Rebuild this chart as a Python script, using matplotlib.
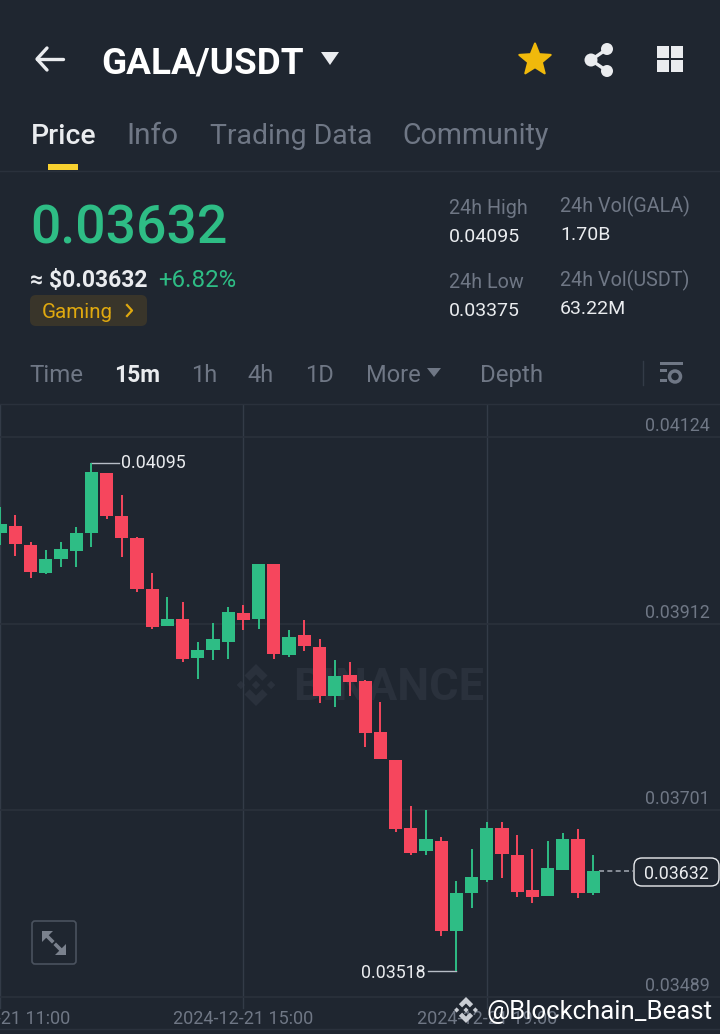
import numpy as np
import matplotlib
matplotlib.use("Agg")
import matplotlib.pyplot as plt
from matplotlib.patches import FancyBboxPatch, Polygon, Circle, Rectangle
from matplotlib.transforms import ScaledTranslation

plt.rcParams['font.family'] = ['Roboto', 'DejaVu Sans']

BG = '#1F2630'
GRID = '#2A313C'
VGRID = '#333B47'
UP = '#2EBD85'
DOWN = '#F6465D'
GREY = '#6F7785'
WHITE = '#EAECEF'

# 15m candles
opens = [0.04015, 0.04023, 0.04002, 0.03970, 0.03986, 0.03995, 0.04015, 0.04083, 0.04035, 0.04009,
         0.03952, 0.03910, 0.03918, 0.03873, 0.03882, 0.03892, 0.03925, 0.03918, 0.03980, 0.03877,
         0.03899, 0.03886, 0.03830, 0.03854, 0.03847, 0.03790, 0.03758, 0.03681, 0.03654, 0.03666,
         0.03564, 0.03607, 0.03622, 0.03681, 0.03650, 0.03610, 0.03603, 0.03633, 0.03668, 0.03607]
closes = [0.04025, 0.04003, 0.03971, 0.03986, 0.03997, 0.04015, 0.04084, 0.04034, 0.04009, 0.03952,
          0.03909, 0.03918, 0.03872, 0.03883, 0.03895, 0.03926, 0.03917, 0.03980, 0.03878, 0.03897,
          0.03887, 0.03830, 0.03853, 0.03846, 0.03788, 0.03759, 0.03680, 0.03652, 0.03668, 0.03564,
          0.03607, 0.03625, 0.03681, 0.03651, 0.03608, 0.03602, 0.03635, 0.03668, 0.03607, 0.03632]
highs = [0.04045, 0.04036, 0.04005, 0.03996, 0.04005, 0.04022, 0.04095, 0.04083, 0.04058, 0.04011,
         0.03970, 0.03943, 0.03937, 0.03892, 0.03913, 0.03931, 0.03934, 0.03980, 0.03980, 0.03905,
         0.03916, 0.03895, 0.03871, 0.03869, 0.03849, 0.03823, 0.03758, 0.03706, 0.03701, 0.03670,
         0.03620, 0.03657, 0.03688, 0.03687, 0.03673, 0.03657, 0.03666, 0.03675, 0.03680, 0.03650]
lows = [0.04002, 0.03989, 0.03964, 0.03969, 0.03977, 0.03977, 0.03999, 0.04031, 0.03988, 0.03948,
        0.03906, 0.03910, 0.03869, 0.03850, 0.03871, 0.03872, 0.03905, 0.03906, 0.03872, 0.03875,
        0.03881, 0.03822, 0.03818, 0.03830, 0.03773, 0.03759, 0.03676, 0.03650, 0.03650, 0.03558,
        0.03518, 0.03590, 0.03619, 0.03624, 0.03602, 0.03596, 0.03603, 0.03633, 0.03601, 0.03605]

price_ticks = [0.03489, 0.03701, 0.03912, 0.04124]
time_ticks = [0, 16, 32]
time_labels = ['2024-12-21 11:00', '2024-12-21 15:00', '2024-12-21 19:00']
last_price = 0.03632
high_price = 0.04095
low_price = 0.03518

W, H = 720, 1034
fig = plt.figure(figsize=(W / 100, H / 100), dpi=100, facecolor=BG)


def px_axes(z):
    a = fig.add_axes([0, 0, 1, 1], zorder=z)
    a.set_xlim(0, W)
    a.set_ylim(H, 0)
    a.axis('off')
    a.patch.set_alpha(0)
    return a


ui = px_axes(0)
top = px_axes(5)


def label(a, x, y, s, size, color=GREY, weight='normal', ha='left'):
    a.text(x, y - 1, s, fontsize=size, color=color, fontweight=weight, ha=ha, va='center_baseline')


def logo(a, cx, cy, s, color):
    # binance mark: centre diamond, side diamonds, top/bottom chevrons
    def diamond(x, y, r):
        a.add_patch(Polygon([(x, y - r), (x + r, y), (x, y + r), (x - r, y)], fc=color, ec='none'))
    diamond(cx, cy, s * 0.2)
    diamond(cx - s * 0.72, cy, s * 0.2)
    diamond(cx + s * 0.72, cy, s * 0.2)
    for d in (-1, 1):
        a.add_patch(Polygon([(cx, cy + d * s), (cx + s * 0.55, cy + d * s * 0.45),
                             (cx + s * 0.3, cy + d * s * 0.2), (cx, cy + d * s * 0.5),
                             (cx - s * 0.3, cy + d * s * 0.2), (cx - s * 0.55, cy + d * s * 0.45)],
                            fc=color, ec='none'))


# === header ===
ui.plot([37, 63], [59, 59], color=WHITE, lw=2.4, solid_capstyle='round')
ui.plot([47, 37, 47], [48, 59, 70], color=WHITE, lw=2.4, solid_capstyle='round', solid_joinstyle='round')
label(ui, 101.5, 61, 'GALA/USDT', 26.6, '#FFFFFF', 'bold')
ui.add_patch(Polygon([(321, 52), (339, 52), (330, 65)], fc=WHITE, ec='none'))

# star
ang = np.deg2rad(np.arange(10) * 36 - 90)
rad = np.array([16.5, 7.2] * 5)
ui.add_patch(Polygon(np.c_[535 + rad * np.cos(ang), 60 + rad * np.sin(ang)], fc='#F0B90B', ec='#F0B90B',
                     lw=1.5, joinstyle='round'))

# share icon
ui.plot([607, 591, 607], [49, 60, 71], color=WHITE, lw=2.4)
for cx, cy, r in [(607, 49, 6), (591, 60, 6.5), (607, 71, 6)]:
    ui.add_patch(Circle((cx, cy), r, fc=WHITE, ec='none'))

# layout icon
for x0 in (657, 671):
    for y0 in (46, 60):
        ui.add_patch(Rectangle((x0, y0), 12, 12, fc=WHITE, ec='none'))

# tabs
label(ui, 31, 134.5, 'Price', 20.4, WHITE, 'medium')
label(ui, 126, 134.5, 'Info', 21.5)
label(ui, 210.5, 134.5, 'Trading Data', 20.4)
label(ui, 402, 134.5, 'Community', 20.6)
ui.add_patch(Rectangle((48, 164), 30, 6, fc='#F8D12F', ec='none'))
ui.plot([0, W], [170.5, 170.5], color=GRID, lw=1)

# price block
label(ui, 30, 225, '0.03632', 38.5, UP, 'medium')
label(ui, 30, 279, '≈ $0.03632', 16.5, WHITE, 'bold')
label(ui, 158, 279, '+6.82%', 17.3, UP)
ui.add_patch(FancyBboxPatch((34, 299), 109, 23, boxstyle='round,pad=4,rounding_size=6', fc='#39352A', ec='none'))
label(ui, 42, 311.5, 'Gaming', 14.8, '#E0A90F')
ui.plot([127, 132, 127], [305, 310.5, 316], color='#E0A90F', lw=1.6)

# 24h stats
label(ui, 449, 208, '24h High', 14.2)
label(ui, 449, 236, '0.04095', 14, WHITE)
label(ui, 449, 282, '24h Low', 14.2)
label(ui, 449, 310, '0.03375', 14, WHITE)
label(ui, 560, 205, '24h Vol(GALA)', 14.2)
label(ui, 560, 234, '1.70B', 14, WHITE)
label(ui, 560, 279, '24h Vol(USDT)', 14.2)
label(ui, 560, 308, '63.22M', 14, WHITE)

# interval row
label(ui, 29, 374, 'Time', 17.3)
label(ui, 114, 374, '15m', 16.5, WHITE, 'bold')
label(ui, 191.5, 374, '1h', 17)
label(ui, 247.5, 374, '4h', 17)
label(ui, 305.5, 374, '1D', 17)
label(ui, 365.5, 374, 'More', 17)
ui.add_patch(Polygon([(427, 368), (441, 368), (434, 377)], fc=GREY, ec='none'))
label(ui, 480, 374, 'Depth', 17.3)
ui.plot([643, 643], [361, 385], color=VGRID, lw=1)
ui.add_patch(Rectangle((660, 362), 23, 3, fc=GREY, ec='none'))
ui.add_patch(Rectangle((660, 369), 7, 3, fc=GREY, ec='none'))
ui.add_patch(Rectangle((660, 379), 7, 3, fc=GREY, ec='none'))
ui.add_patch(Circle((675, 376.5), 5.5, fc=BG, ec=GREY, lw=2.5))

# watermark
logo(ui, 256, 685, 21, GRID)
label(ui, 293, 685, 'BINANCE', 32.5, GRID, 'bold')

# === chart, sits over the ui layer ===
chart_top, chart_bottom = 404, 1029
ppx = 1.134e-5  # price per pixel
step = 15.21    # pixels per candle
y_low = 0.03489 - (chart_bottom - 997) * ppx
y_high = 0.03489 + (997 - chart_top) * ppx
ax = fig.add_axes([0, (H - chart_bottom) / H, 1, (chart_bottom - chart_top) / H], zorder=1)
ax.patch.set_alpha(0)
ax.set_ylim(y_low, y_high)
ax.set_xlim(-0.1 / step, (W - 0.1) / step)

idx = np.arange(len(opens))
o, c = np.array(opens), np.array(closes)
colors = [UP if b >= a else DOWN for a, b in zip(opens, closes)]
ax.vlines(idx, lows, highs, colors=colors, lw=1.4, zorder=3)
ax.bar(idx, np.abs(c - o), bottom=np.minimum(o, c), width=0.87, color=colors, zorder=4)

for s in ('left', 'right'):
    ax.spines[s].set_visible(False)
for s in ('top', 'bottom'):
    ax.spines[s].set_color(GRID)
    ax.spines[s].set_linewidth(1)

ax.set_xticks(time_ticks)
ax.set_xticklabels(time_labels)
ax.tick_params(axis='x', length=0, pad=-14, labelsize=13, labelcolor=GREY)
for t in time_ticks:
    ax.axvline(t, ymin=(chart_bottom - 1008) / (chart_bottom - chart_top), color=VGRID, lw=1, zorder=1)

ax.yaxis.tick_right()
ax.set_yticks(price_ticks)
ax.set_yticklabels([f'{p:.5f}' for p in price_ticks])
ax.tick_params(axis='y', length=0, pad=-7.2, labelsize=12.8, labelcolor=GREY)
ax.grid(axis='y', color=GRID, lw=1.2, zorder=1)
for lab in ax.get_yticklabels():
    lab.set_ha('right')
    lab.set_va('bottom')
    lab.set_transform(lab.get_transform() + ScaledTranslation(0, 2 / 100, fig.dpi_scale_trans))

# high / low markers
ax.plot([6, 7.8], [high_price, high_price], color='#B7BDC6', lw=1, zorder=2)
ax.annotate(f'{high_price:.5f}', xy=(7.85, high_price), xytext=(2, 1.5), textcoords='offset pixels',
            color=WHITE, fontsize=12.8, va='center_baseline')
ax.plot([30, 28.1], [low_price, low_price], color='#B7BDC6', lw=1, zorder=2)
ax.annotate(f'{low_price:.5f}', xy=(28.05, low_price), xytext=(-1, 0), textcoords='offset pixels',
            color=WHITE, fontsize=12.8, va='center_baseline', ha='right')

# last price tag
ax.plot([39.4, 41.6], [last_price, last_price], color='#9AA0AA', lw=1.2, ls=(0, (3, 2)), zorder=2)
top.add_patch(FancyBboxPatch((638, 862), 77, 20, boxstyle='round,pad=4,rounding_size=8', fc=BG, ec=WHITE, lw=1))
label(top, 676.5, 873, f'{last_price:.5f}', 12.8, WHITE, ha='center')

# expand button
top.add_patch(FancyBboxPatch((35, 924), 38, 37, boxstyle='round,pad=3,rounding_size=3', fc='none', ec='#4A525E', lw=1.2))
for (x, y), d in [((42, 931), 1), ((66, 955), -1)]:
    top.add_patch(Polygon([(x, y), (x + d * 11, y), (x, y + d * 11)], fc='#7A818D', ec='none'))
top.plot([45, 52], [934, 941], color='#7A818D', lw=2.6)
top.plot([56, 63], [945, 952], color='#7A818D', lw=2.6)

# credit over the axis label
logo(top, 466, 1010, 13, '#C9CDD3')
label(top, 487, 1011, '@Blockchain_Beast', 18.5, '#FFFFFF')

fig.savefig('out.png', dpi=100, facecolor=BG)
